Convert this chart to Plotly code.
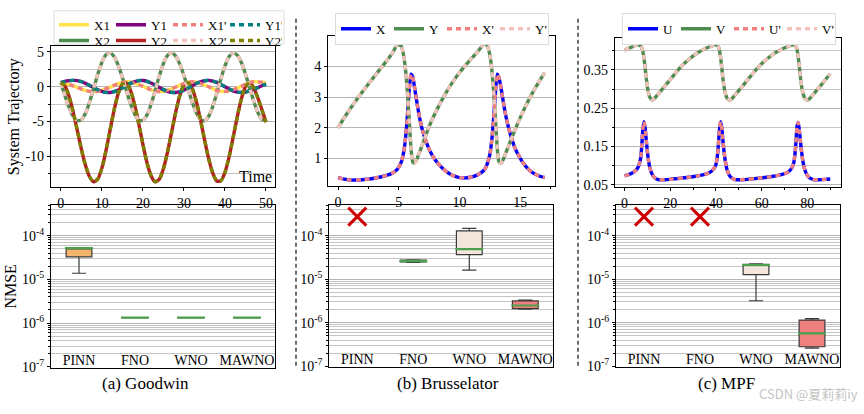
import plotly.graph_objects as go

W, H = 864, 414

# ---------------- Goodwin trajectories ----------------
goodwin_t = list(range(51))
goodwin_x1 = [0.56, 0.47, 0.30, 0.10, -0.12, -0.35, -0.55, -0.68, -0.71, -0.66,
              -0.52, -0.32, -0.08, 0.18, 0.42, 0.62, 0.70, 0.64, 0.48, 0.27,
              0.03, -0.22, -0.46, -0.64, -0.71, -0.66, -0.52, -0.31, -0.06, 0.20,
              0.45, 0.64, 0.70, 0.63, 0.46, 0.23, -0.02, -0.28, -0.52, -0.68,
              -0.70, -0.62, -0.45, -0.22, 0.04, 0.32, 0.56, 0.69, 0.68, 0.62, 0.56]
goodwin_y1 = [0.56, 0.75, 0.86, 0.89, 0.86, 0.72, 0.47, 0.17, -0.16, -0.46,
              -0.70, -0.83, -0.84, -0.72, -0.49, -0.18, 0.16, 0.47, 0.72, 0.87,
              0.88, 0.76, 0.53, 0.22, -0.12, -0.43, -0.68, -0.83, -0.84, -0.73,
              -0.51, -0.21, 0.12, 0.44, 0.69, 0.85, 0.89, 0.80, 0.60, 0.31,
              -0.01, -0.34, -0.61, -0.79, -0.85, -0.79, -0.61, -0.40, -0.15, 0.12, 0.38]
goodwin_x2 = [0.56, -1.30, -2.98, -4.24, -4.88, -4.77, -3.84, -2.24, -0.25, 1.78,
              3.49, 4.57, 4.84, 4.29, 3.06, 1.32, -0.63, -2.49, -3.95, -4.79,
              -4.86, -4.07, -2.54, -0.56, 1.52, 3.30, 4.49, 4.85, 4.39, 3.24,
              1.59, -0.33, -2.20, -3.73, -4.69, -4.91, -4.29, -2.90, -0.98, 1.10,
              2.98, 4.30, 4.85, 4.52, 3.46, 1.81, -0.14, -2.07, -3.67, -4.67, -4.85]
goodwin_y2 = [0.56, 0.08, -1.39, -3.62, -6.28, -8.97, -11.30, -12.95, -13.68, -13.29,
              -11.71, -9.22, -6.24, -3.32, -0.97, 0.37, 0.50, -0.57, -2.65, -5.37,
              -8.30, -10.94, -12.83, -13.68, -13.31, -11.81, -9.42, -6.55, -3.68, -1.29,
              0.21, 0.58, -0.24, -2.10, -4.68, -7.57, -10.28, -12.39, -13.55, -13.54,
              -12.33, -10.13, -7.30, -4.34, -1.77, -0.02, 0.58, -0.13, -1.60, -3.30, -5.10]
# predictions (visually identical to the ground truth in the figure)
goodwin_x1_pred = list(goodwin_x1)
goodwin_y1_pred = list(goodwin_y1)
goodwin_x2_pred = list(goodwin_x2)
goodwin_y2_pred = list(goodwin_y2)

# ---------------- Brusselator trajectories ----------------
brus_t = [0, 0.5, 1, 1.5, 2, 2.5, 3, 3.5, 4, 4.5, 4.9, 5.2, 5.4, 5.55, 5.7, 5.85,
          6.0, 6.15, 6.3, 6.5, 6.75, 7.0, 7.5, 8, 8.5, 9, 9.5, 10, 10.5, 11, 11.5,
          12.05, 12.3, 12.5, 12.65, 12.8, 12.95, 13.1, 13.25, 13.45, 13.75, 14.0,
          14.5, 15, 15.5, 16, 16.5, 17]
brus_x = [0.38, 0.33, 0.30, 0.30, 0.31, 0.33, 0.36, 0.40, 0.45, 0.53, 0.66, 0.88, 1.2,
          1.65, 2.35, 3.2, 3.75, 3.65, 3.3, 2.8, 2.25, 1.85, 1.3, 0.95, 0.72, 0.55,
          0.44, 0.38, 0.37, 0.40, 0.47, 0.64, 0.85, 1.15, 1.6, 2.3, 3.15, 3.75, 3.62,
          3.2, 2.5, 2.05, 1.4, 1.0, 0.72, 0.54, 0.44, 0.38]
brus_y = [2.0, 2.32, 2.62, 2.9, 3.17, 3.43, 3.68, 3.93, 4.18, 4.45, 4.72, 4.66, 4.35,
          3.9, 3.2, 2.3, 1.35, 0.88, 0.86, 1.0, 1.25, 1.52, 2.05, 2.48, 2.87, 3.22,
          3.53, 3.8, 4.04, 4.27, 4.48, 4.74, 4.66, 4.35, 3.9, 3.2, 2.3, 1.35, 0.88,
          0.86, 1.13, 1.38, 1.88, 2.34, 2.76, 3.14, 3.48, 3.8]
brus_x_pred = list(brus_x)
brus_y_pred = list(brus_y)

# ---------------- MPF trajectories ----------------
mpf_t = [0, 2, 4, 5, 6, 7, 7.5, 8, 8.5, 9, 9.5, 10, 10.5, 11, 12, 13, 14, 15, 17, 20,
         23, 26, 29, 32, 35, 37, 38, 39, 40, 40.5, 41, 41.5, 42, 42.5, 43, 43.5, 44,
         44.5, 45, 46, 47, 48, 49, 51, 54, 57, 60, 63, 66, 69, 71, 72, 73, 74, 74.5,
         75, 75.5, 76, 76.5, 77, 77.5, 78, 78.5, 79, 80, 81, 82, 83, 85, 88, 90]
mpf_v = [0.402, 0.407, 0.412, 0.415, 0.416, 0.413, 0.408, 0.398, 0.380, 0.355,
         0.328, 0.305, 0.289, 0.279, 0.271, 0.275, 0.282, 0.289, 0.303, 0.325,
         0.347, 0.366, 0.382, 0.395, 0.405, 0.410, 0.412, 0.415, 0.416, 0.415,
         0.411, 0.402, 0.384, 0.358, 0.330, 0.307, 0.291, 0.281, 0.275, 0.271,
         0.275, 0.282, 0.289, 0.303, 0.325, 0.347, 0.366, 0.382, 0.395, 0.405,
         0.410, 0.412, 0.415, 0.416, 0.415, 0.411, 0.402, 0.384, 0.358, 0.330,
         0.307, 0.291, 0.281, 0.275, 0.271, 0.275, 0.282, 0.289, 0.303, 0.325, 0.340]
mpf_u = [0.073, 0.077, 0.083, 0.088, 0.097, 0.118, 0.150, 0.195, 0.215, 0.197,
         0.165, 0.135, 0.112, 0.096, 0.078, 0.069, 0.065, 0.063, 0.063, 0.064,
         0.066, 0.068, 0.070, 0.073, 0.077, 0.081, 0.085, 0.091, 0.103, 0.120,
         0.150, 0.192, 0.215, 0.200, 0.168, 0.138, 0.115, 0.098, 0.086, 0.073,
         0.067, 0.064, 0.063, 0.063, 0.064, 0.066, 0.068, 0.070, 0.073, 0.077,
         0.081, 0.085, 0.092, 0.106, 0.125, 0.160, 0.203, 0.213, 0.192, 0.162,
         0.135, 0.113, 0.098, 0.087, 0.074, 0.068, 0.065, 0.063, 0.063, 0.064, 0.065]
mpf_u_pred = list(mpf_u)
mpf_v_pred = list(mpf_v)

# ---------------- NMSE box statistics ----------------
methods = ["PINN", "FNO", "WNO", "MAWNO"]

goodwin_lower = [1.38e-5, 1.34e-6, 1.34e-6, 1.34e-6]
goodwin_q1 = [3.27e-5, 1.34e-6, 1.34e-6, 1.34e-6]
goodwin_med = [5.2e-5, 1.34e-6, 1.34e-6, 1.34e-6]
goodwin_q3 = [5.25e-5, 1.34e-6, 1.34e-6, 1.34e-6]
goodwin_upper = [5.3e-5, 1.34e-6, 1.34e-6, 1.34e-6]
goodwin_failed = [None, None, None, None]

brus_lower = [None, 2.45e-5, 1.61e-5, 2.04e-6]
brus_q1 = [None, 2.5e-5, 3.68e-5, 2.11e-6]
brus_med = [None, 2.6e-5, 4.9e-5, 2.49e-6]
brus_q3 = [None, 2.75e-5, 1.29e-4, 3.17e-6]
brus_upper = [None, 2.8e-5, 1.47e-4, 3.33e-6]
brus_failed = [2.75e-4, None, None, None]

mpf_lower = [None, None, 3.2e-6, 2.6e-7]
mpf_q1 = [None, None, 1.27e-5, 2.8e-7]
mpf_med = [None, None, 2.1e-5, 5.7e-7]
mpf_q3 = [None, None, 2.21e-5, 1.15e-6]
mpf_upper = [None, None, 2.25e-5, 1.24e-6]
mpf_failed = [2.75e-4, 2.75e-4, None, None]

box_fill = ["#F4B46C", "#BFD3B5", "#F3E6DD", "#F08080"]

# ---------------- figure ----------------
fig = go.Figure()
FONT = "'Liberation Serif', 'DejaVu Serif', serif"
DASH = "5px,4px"


def add_line(x, y, color, name, xa, ya, legend, rank, dashed=False):
    fig.add_trace(go.Scatter(
        x=x, y=y, mode="lines", name=name,
        line=dict(color=color, width=3.4, dash=DASH if dashed else "solid",
                  shape="spline", smoothing=0.6),
        xaxis=xa, yaxis=ya, legend=legend, legendrank=rank, hoverinfo="skip"))


# Goodwin
add_line(goodwin_t, goodwin_x1, "#FFE34D", "X1", "x", "y", "legend", 1)
add_line(goodwin_t, goodwin_y1, "#800080", "Y1", "x", "y", "legend", 2)
add_line(goodwin_t, goodwin_x2, "#4E8B4E", "X2", "x", "y", "legend2", 1)
add_line(goodwin_t, goodwin_y2, "#B22222", "Y2", "x", "y", "legend2", 2)
add_line(goodwin_t, goodwin_x1_pred, "#F08080", "X1'", "x", "y", "legend", 3, True)
add_line(goodwin_t, goodwin_y1_pred, "#008080", "Y1'", "x", "y", "legend", 4, True)
add_line(goodwin_t, goodwin_x2_pred, "#F0C4BC", "X2'", "x", "y", "legend2", 3, True)
add_line(goodwin_t, goodwin_y2_pred, "#808000", "Y2'", "x", "y", "legend2", 4, True)

# Brusselator
add_line(brus_t, brus_x, "#0000FF", "X", "x2", "y2", "legend3", 1)
add_line(brus_t, brus_y, "#4E8B4E", "Y", "x2", "y2", "legend3", 2)
add_line(brus_t, brus_x_pred, "#F08080", "X'", "x2", "y2", "legend3", 3, True)
add_line(brus_t, brus_y_pred, "#F0C4BC", "Y'", "x2", "y2", "legend3", 4, True)

# MPF
add_line(mpf_t, mpf_u, "#0000FF", "U", "x3", "y3", "legend4", 1)
add_line(mpf_t, mpf_v, "#4E8B4E", "V", "x3", "y3", "legend4", 2)
add_line(mpf_t, mpf_u_pred, "#F08080", "U'", "x3", "y3", "legend4", 3, True)
add_line(mpf_t, mpf_v_pred, "#F0C4BC", "V'", "x3", "y3", "legend4", 4, True)


def add_boxes(lower, q1, med, q3, upper, failed, xa, ya):
    for i in range(len(methods)):
        if med[i] is None:
            continue
        fig.add_trace(go.Box(
            x=[i], q1=[q1[i]], median=[med[i]], q3=[q3[i]],
            lowerfence=[lower[i]], upperfence=[upper[i]],
            width=0.46, whiskerwidth=0.55, fillcolor=box_fill[i],
            line=dict(color="#3a3a3a", width=1.2), boxpoints=False,
            showlegend=False, xaxis=xa, yaxis=ya, hoverinfo="skip"))
        fig.add_trace(go.Box(
            x=[i], q1=[med[i]], median=[med[i]], q3=[med[i]],
            lowerfence=[med[i]], upperfence=[med[i]],
            width=0.5, whiskerwidth=0, fillcolor="rgba(0,0,0,0)",
            line=dict(color="#4CA04C", width=2.2), boxpoints=False,
            showlegend=False, xaxis=xa, yaxis=ya, hoverinfo="skip"))
    fx = [i for i in range(len(methods)) if failed[i] is not None]
    fy = [failed[i] for i in fx]
    if fx:
        fig.add_trace(go.Scatter(
            x=fx, y=fy, mode="markers", showlegend=False,
            marker=dict(symbol="x-thin", size=18,
                        line=dict(width=3, color="#CC0000")),
            xaxis=xa, yaxis=ya, hoverinfo="skip"))


add_boxes(goodwin_lower, goodwin_q1, goodwin_med, goodwin_q3, goodwin_upper,
          goodwin_failed, "x4", "y4")
add_boxes(brus_lower, brus_q1, brus_med, brus_q3, brus_upper, brus_failed, "x5", "y5")
add_boxes(mpf_lower, mpf_q1, mpf_med, mpf_q3, mpf_upper, mpf_failed, "x6", "y6")


def px_x(a, b):
    return [a / W, b / W]


def px_y(top, bottom):
    return [1 - bottom / H, 1 - top / H]


base = dict(showline=True, linecolor="black", linewidth=1.3, mirror=True,
            ticks="outside", ticklen=3, tickcolor="black", zeroline=False,
            tickfont=dict(size=14, family=FONT, color="black"))
grid = dict(showgrid=True, gridcolor="#b4b4b4", gridwidth=1)
minor_grid = dict(ticks="outside", ticklen=2, tickcolor="black",
                  showgrid=True, gridcolor="#c4c4c4", gridwidth=1)

log_major = [1e-7, 1e-6, 1e-5, 1e-4]
log_text = ["10<sup>-7</sup>", "10<sup>-6</sup>", "10<sup>-5</sup>", "10<sup>-4</sup>"]
log_minor = [k * 10.0 ** e for e in range(-8, -2) for k in range(2, 10)]

layout_axes = dict(
    xaxis=dict(base, domain=px_x(51, 275), anchor="y", range=[-2.4, 52.2],
               tickvals=[0, 10, 20, 30, 40, 50], showgrid=False),
    yaxis=dict(base, **grid, domain=px_y(46, 190), anchor="x", range=[-14.47, 5.82],
               tickvals=[-10, -5, 0, 5], ticktext=["-10", "-5", "0", "5"],
               minor=dict(minor_grid, tickvals=[-12.5, -7.5, -2.5, 2.5]),
               title=dict(text="System Trajectory", font=dict(size=16, family=FONT),
                          standoff=1)),
    xaxis2=dict(base, domain=px_x(328.3, 555), anchor="y2", range=[-0.8, 17.85],
                tickvals=[0, 5, 10, 15], showgrid=False,
                minor=dict(tickvals=[2.5, 7.5, 12.5, 17.5], ticks="outside", ticklen=2,
                           tickcolor="black")),
    yaxis2=dict(base, **grid, domain=px_y(36, 189), anchor="x2", range=[0.095, 4.98],
                tickvals=[1, 2, 3, 4]),
    xaxis3=dict(base, domain=px_x(615, 840.7), anchor="y3", range=[-4.2, 94.6],
                tickvals=[0, 20, 40, 60, 80], showgrid=False,
                minor=dict(tickvals=[10, 30, 50, 70, 90], ticks="outside", ticklen=2,
                           tickcolor="black")),
    yaxis3=dict(base, **grid, domain=px_y(37.7, 189.3), anchor="x3",
                range=[0.0449, 0.4336],
                tickvals=[0.05, 0.15, 0.25, 0.35],
                ticktext=["0.05", "0.15", "0.25", "0.35"],
                minor=dict(minor_grid, tickvals=[0.1, 0.2, 0.3, 0.4])),
)
for k, (dx, dy) in zip([4, 5, 6], [((51, 275), (208, 374)),
                                    ((329.3, 553.3), (208.3, 373.3)),
                                    ((616, 840), (208.3, 373.3))]):
    layout_axes["xaxis%d" % k] = dict(
        base, domain=px_x(*dx), anchor="y%d" % k, range=[-0.5, 3.5],
        tickvals=[0, 1, 2, 3], ticktext=methods, ticks="",
        ticklabelposition="inside", ticklabeloverflow="allow", showgrid=False)
    layout_axes["yaxis%d" % k] = dict(
        base, **grid, domain=px_y(*dy), anchor="x%d" % k, type="log",
        range=[-7.02, -3.3], tickvals=log_major, ticktext=log_text,
        ticklabeloverflow="allow",
        minor=dict(minor_grid, tickvals=log_minor))
layout_axes["yaxis4"]["title"] = dict(text="NMSE", font=dict(size=16, family=FONT),
                                      standoff=1)

leg_common = dict(orientation="h", xanchor="left", yanchor="top",
                  font=dict(size=13, family=FONT, color="black"),
                  itemwidth=30, tracegroupgap=0, traceorder="normal")

fig.update_layout(
    width=W, height=H,
    margin=dict(l=0, r=0, t=0, b=0),
    paper_bgcolor="white", plot_bgcolor="white",
    font=dict(family=FONT, size=14, color="black"),
    boxmode="overlay",
    showlegend=True,
    legend=dict(leg_common, x=54 / W, y=1 - 9 / H, entrywidth=12,
                bgcolor="rgba(0,0,0,0)", borderwidth=0),
    legend2=dict(leg_common, x=54 / W, y=1 - 25 / H, entrywidth=12,
                 bgcolor="rgba(0,0,0,0)", borderwidth=0),
    legend3=dict(leg_common, x=442 / W, xanchor="center", y=1 - 12 / H, entrywidth=8,
                 bgcolor="white", bordercolor="#dcdcdc", borderwidth=1),
    legend4=dict(leg_common, x=729 / W, xanchor="center", y=1 - 12 / H, entrywidth=8,
                 bgcolor="white", bordercolor="#dcdcdc", borderwidth=1),
    **layout_axes,
)

shapes = [
    dict(type="rect", xref="paper", yref="paper", x0=54 / W, x1=284 / W,
         y0=1 - 44 / H, y1=1 - 10 / H, line=dict(color="#dcdcdc", width=1),
         fillcolor="white", layer="below"),
    dict(type="line", xref="paper", yref="paper", x0=296 / W, x1=296 / W,
         y0=1 - 372 / H, y1=1 - 15 / H, line=dict(color="#6e6e6e", width=2, dash="4px,3px")),
    dict(type="line", xref="paper", yref="paper", x0=578 / W, x1=578 / W,
         y0=1 - 372 / H, y1=1 - 15 / H, line=dict(color="#6e6e6e", width=2, dash="4px,3px")),
]
fig.update_layout(shapes=shapes)

annotations = [
    dict(text="Time", xref="x domain", yref="y domain", x=0.995, y=0.0,
         xanchor="right", yanchor="bottom", showarrow=False,
         font=dict(size=16, family=FONT)),
    dict(text="(a) Goodwin", xref="paper", yref="paper", x=145 / W, y=1 - 390 / H,
         xanchor="center", yanchor="middle", showarrow=False,
         font=dict(size=17, family=FONT)),
    dict(text="(b) Brusselator", xref="paper", yref="paper", x=448 / W, y=1 - 390 / H,
         xanchor="center", yanchor="middle", showarrow=False,
         font=dict(size=17, family=FONT)),
    dict(text="(c) MPF", xref="paper", yref="paper", x=726 / W, y=1 - 390 / H,
         xanchor="center", yanchor="middle", showarrow=False,
         font=dict(size=17, family=FONT)),
    dict(text="CSDN @夏莉莉iy", xref="paper", yref="paper", x=860 / W, y=1 - 400 / H,
         xanchor="right", yanchor="middle", showarrow=False,
         font=dict(size=13, family="Noto Sans CJK SC", color="#c4c4c4")),
]
fig.update_layout(annotations=annotations)

fig.write_html("out.html")
